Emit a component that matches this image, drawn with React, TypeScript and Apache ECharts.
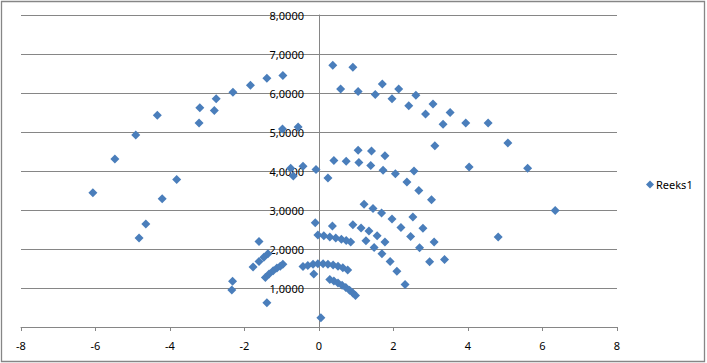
import React, { useEffect, useRef } from "react";
import * as echarts from "echarts";

const seriesName = "Reeks1";

// [x, y] points, grouped by visual cluster
const leftOuter: [number, number][] = [
  [-6.07, 3.44], [-5.48, 4.31], [-4.92, 4.92], [-4.83, 2.28], [-4.65, 2.64],
  [-4.34, 5.43], [-4.21, 3.29], [-3.82, 3.78], [-3.22, 5.23], [-3.2, 5.62],
  [-2.81, 5.55], [-2.76, 5.85], [-2.31, 6.02], [-2.32, 1.17], [-2.34, 0.95],
  [-1.84, 6.2], [-1.4, 6.38], [-0.97, 6.45], [-0.98, 5.08], [-0.56, 5.13],
];
const leftInner: [number, number][] = [
  [-1.61, 2.19], [-1.4, 0.62],
  [-1.77, 1.54], [-1.61, 1.68], [-1.48, 1.79], [-1.37, 1.88],
  [-1.44, 1.27], [-1.34, 1.36], [-1.23, 1.44], [-1.13, 1.51], [-1.04, 1.56], [-0.97, 1.61],
];
const centerUpper: [number, number][] = [
  [-0.76, 4.07], [-0.69, 3.87], [-0.43, 4.12], [-0.08, 4.04], [0.24, 3.82],
  [-0.1, 2.67], [0.36, 2.59],
];
const centerBand: [number, number][] = [
  [-0.03, 2.36], [0.13, 2.34], [0.29, 2.31], [0.45, 2.28], [0.6, 2.25], [0.73, 2.22], [0.85, 2.18],
];
const centerArc: [number, number][] = [
  [-0.43, 1.55], [-0.3, 1.58], [-0.16, 1.61], [-0.03, 1.62], [0.11, 1.62],
  [0.24, 1.61], [0.38, 1.59], [0.51, 1.56], [0.64, 1.52], [0.77, 1.46],
  [-0.14, 1.36], [0.05, 0.24],
];
const centerLowArc: [number, number][] = [
  [0.29, 1.22], [0.4, 1.18], [0.51, 1.13], [0.62, 1.07], [0.72, 1.01],
  [0.82, 0.94], [0.91, 0.87], [0.98, 0.81],
];
const rightTop: [number, number][] = [
  [0.37, 6.71], [0.91, 6.66], [0.58, 6.1], [1.05, 6.04], [1.51, 5.96],
  [1.7, 6.23], [1.96, 5.85], [2.14, 6.1], [2.6, 5.94], [2.41, 5.67],
  [2.86, 5.46], [3.06, 5.72], [3.52, 5.5], [3.33, 5.2], [3.94, 5.23],
  [4.54, 5.23], [3.11, 4.65], [5.07, 4.72], [4.03, 4.1], [5.6, 4.07],
];
const rightMid: [number, number][] = [
  [1.05, 4.53], [1.41, 4.51], [1.77, 4.39], [0.4, 4.27], [0.73, 4.25],
  [1.07, 4.22], [1.39, 4.14], [1.72, 4.02], [2.05, 3.93], [2.55, 4.0],
  [2.36, 3.72], [2.68, 3.5], [3.02, 3.26],
];
const rightLow: [number, number][] = [
  [1.21, 3.15], [1.45, 3.04], [1.68, 2.92], [1.96, 2.77], [2.2, 2.55],
  [2.52, 2.82], [2.79, 2.53], [2.46, 2.32], [3.09, 2.18], [2.7, 2.03],
  [2.97, 1.67], [3.37, 1.73],
  [0.91, 2.62], [1.13, 2.54], [1.34, 2.46], [1.56, 2.34], [1.77, 2.18],
  [1.26, 2.21], [1.48, 2.04], [1.69, 1.88], [1.91, 1.68], [2.09, 1.43], [2.31, 1.09],
];
const rightFar: [number, number][] = [[4.81, 2.31], [6.34, 2.99]];

const xMin = -8;
const xMax = 8;
const xStep = 2;
const yMin = 0;
const yMax = 8;
const yStep = 1;

const FONT = "'Noto Sans', 'Liberation Sans', sans-serif";
const AXIS = "#868686";
const BLUE = "#4a7ebb";

const W = 707;
const H = 363;
const GRID_LEFT = 21;
const GRID_RIGHT = 90;

export default function App() {
  const ref = useRef<HTMLDivElement>(null);

  useEffect(() => {
    document.body.style.margin = "0";
    if (!ref.current) return;
    const chart = echarts.init(ref.current, undefined, { renderer: "svg" });
    const data = [
      ...leftOuter, ...leftInner, ...centerUpper, ...centerBand, ...centerArc,
      ...centerLowArc, ...rightTop, ...rightMid, ...rightLow, ...rightFar,
    ];
    const gridWidth = W - GRID_LEFT - GRID_RIGHT;
    // shift the y axis (line, ticks and labels) to where x = 0
    const yAxisOffset = -gridWidth * ((0 - xMin) / (xMax - xMin));
    chart.setOption({
      animation: false,
      backgroundColor: "#ffffff",
      textStyle: { fontFamily: FONT },
      grid: {
        left: GRID_LEFT,
        right: GRID_RIGHT,
        top: 15,
        bottom: 36,
        containLabel: false,
        outerBoundsMode: "none",
      },
      legend: {
        data: [{ name: seriesName, icon: "diamond" }],
        left: 641,
        top: 174,
        itemWidth: 8,
        itemHeight: 8,
        textStyle: { fontFamily: FONT, fontSize: 11, color: "#000", padding: [0, 0, 0, -3] },
      },
      graphic: [
        {
          type: "rect",
          shape: { x: 1.5, y: 1.5, width: 703, height: 360 },
          style: { fill: "none", stroke: AXIS, lineWidth: 1.3 },
          silent: true,
          z: 100,
        },
      ],
      xAxis: {
        type: "value",
        min: xMin,
        max: xMax,
        interval: xStep,
        axisLine: { show: true, onZero: false, lineStyle: { color: AXIS, width: 1 } },
        axisTick: { show: true, length: 4, lineStyle: { color: AXIS } },
        splitLine: { show: false },
        axisLabel: { fontFamily: FONT, fontSize: 11, color: "#000", margin: 13 },
      },
      yAxis: {
        type: "value",
        position: "left",
        offset: yAxisOffset,
        min: yMin,
        max: yMax,
        interval: yStep,
        axisLine: { show: true, onZero: false, lineStyle: { color: AXIS, width: 1 } },
        axisTick: { show: true, length: 4, lineStyle: { color: AXIS } },
        splitLine: { show: true, lineStyle: { color: AXIS, width: 1 } },
        axisLabel: {
          fontFamily: FONT,
          fontSize: 11,
          color: "#000",
          margin: 15,
          showMinLabel: false,
          formatter: (v: number) => (v === 0 ? "" : v.toFixed(4).replace(".", ",")),
        },
      },
      series: [
        {
          name: seriesName,
          type: "scatter",
          symbol: "diamond",
          symbolSize: 9,
          itemStyle: { color: BLUE, opacity: 1 },
          data,
        },
      ],
    });
    return () => chart.dispose();
  }, []);

  return <div ref={ref} style={{ width: W, height: H }} />;
}
